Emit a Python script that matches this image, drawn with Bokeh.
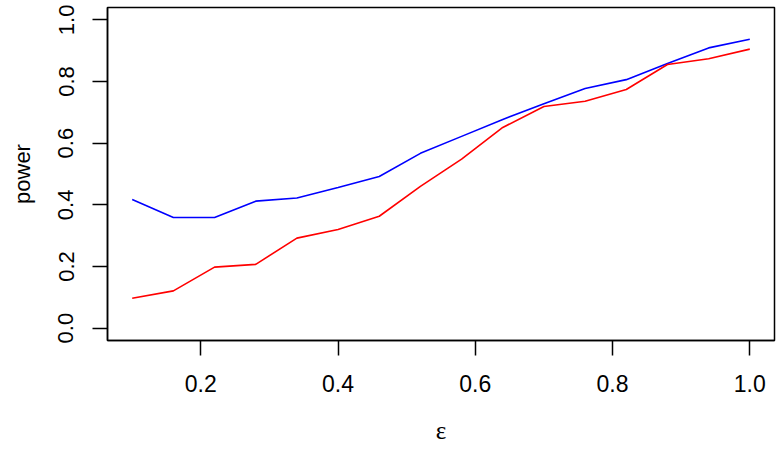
from bokeh.plotting import figure
from bokeh.models import Range1d, FixedTicker, PrintfTickFormatter
from bokeh.embed import file_html
from bokeh.resources import INLINE

# data
eps = [0.10, 0.16, 0.22, 0.28, 0.34, 0.40, 0.46, 0.52,
       0.58, 0.64, 0.70, 0.76, 0.82, 0.88, 0.94, 1.00]
power_blue = [0.417, 0.359, 0.359, 0.412, 0.422, 0.456, 0.492, 0.567,
              0.622, 0.677, 0.728, 0.777, 0.806, 0.858, 0.909, 0.937]
power_red = [0.097, 0.121, 0.198, 0.207, 0.292, 0.320, 0.363, 0.460,
             0.548, 0.651, 0.719, 0.736, 0.774, 0.855, 0.874, 0.905]
x_ticks = [0.2, 0.4, 0.6, 0.8, 1.0]
y_ticks = [0.0, 0.2, 0.4, 0.6, 0.8, 1.0]
x_title = "ε"
y_title = "power"

p = figure(width=778, height=452, output_backend="svg", toolbar_location=None,
           x_range=Range1d(0.064, 1.036), y_range=Range1d(-0.04, 1.04),
           min_border_left=107, min_border_right=4, min_border_top=7,
           min_border_bottom=112)

p.line(eps, power_blue, line_color="#0000ff", line_width=1.6)
p.line(eps, power_red, line_color="#ff0000", line_width=1.6)

p.grid.visible = False
p.outline_line_color = "black"
p.outline_line_width = 1.5
p.background_fill_color = "white"
p.border_fill_color = "white"

for ax in (p.xaxis[0], p.yaxis[0]):
    ax.axis_line_color = "black"
    ax.axis_line_width = 1.5
    ax.major_tick_line_color = "black"
    ax.major_tick_line_width = 1.5
    ax.major_tick_out = 15
    ax.major_tick_in = 0
    ax.minor_tick_line_color = None
    ax.major_label_text_font = "Liberation Sans"
    ax.major_label_text_color = "black"
    ax.formatter = PrintfTickFormatter(format="%.1f")
    ax.axis_label_text_font_style = "normal"
    ax.axis_label_text_color = "black"

p.xaxis[0].ticker = FixedTicker(ticks=x_ticks)
p.yaxis[0].ticker = FixedTicker(ticks=y_ticks)
p.xaxis[0].major_label_text_font_size = "23px"
p.yaxis[0].major_label_text_font_size = "22px"
p.xaxis[0].major_label_standoff = 19
p.yaxis[0].major_label_standoff = 19
p.yaxis[0].major_label_orientation = "vertical"

p.xaxis[0].axis_label = x_title
p.xaxis[0].axis_label_text_font = "Liberation Serif"
p.xaxis[0].axis_label_text_font_size = "25px"
p.xaxis[0].axis_label_standoff = 22
p.xaxis[0].axis_label_text_baseline = "alphabetic"

p.yaxis[0].axis_label = y_title
p.yaxis[0].axis_label_text_font = "Liberation Sans"
p.yaxis[0].axis_label_text_font_size = "22px"
p.yaxis[0].axis_label_standoff = 21
p.yaxis[0].axis_label_text_baseline = "alphabetic"

open("out.html", "w").write(file_html(p, INLINE))
